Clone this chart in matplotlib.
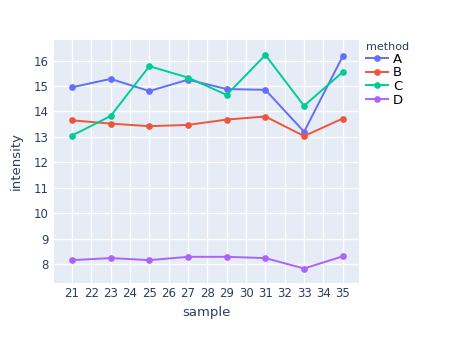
import numpy as np
import matplotlib.pyplot as plt

samples = [21, 23, 25, 27, 29, 31, 33, 35]
methods = ["A", "B", "C", "D"]
intensity_a = [14.95, 15.28, 14.80, 15.25, 14.88, 14.85, 13.20, 16.17]
intensity_b = [13.65, 13.52, 13.42, 13.47, 13.68, 13.80, 13.03, 13.72]
intensity_c = [13.05, 13.82, 15.78, 15.33, 14.65, 16.22, 14.22, 15.55]
intensity_d = [8.15, 8.23, 8.15, 8.28, 8.28, 8.23, 7.82, 8.30]
series = [intensity_a, intensity_b, intensity_c, intensity_d]
colors = ["#636efa", "#EF553B", "#00cc96", "#ab63fa"]

fig = plt.figure(figsize=(4.74, 3.38), dpi=100)
ax = fig.add_axes([54 / 474, 1 - 283 / 338, (359 - 54) / 474, (283 - 40) / 338])
ax.set_facecolor("#E5ECF6")

for name, vals, c in zip(methods, series, colors):
    ax.plot(samples, vals, color=c, lw=1.4, marker="o", ms=3.8, label=name)

ax.set_xlim(20.07, 35.84)
ax.set_ylim(7.25, 16.81)
ax.set_xticks(np.arange(21, 36))
ax.set_yticks(np.arange(8, 17))
ax.grid(color="white", lw=1)
ax.set_axisbelow(True)
for s in ax.spines.values():
    s.set_visible(False)
ax.tick_params(axis="x", length=0, labelsize=8.5, colors="#2a3f5f", pad=3)
ax.tick_params(axis="y", length=0, labelsize=8.5, colors="#2a3f5f", pad=4)
ax.set_xlabel("sample", fontsize=9.5, color="#2a3f5f", labelpad=4)
ax.set_ylabel("intensity", fontsize=9.5, color="#2a3f5f", labelpad=8)

leg = fig.legend(loc="upper left", bbox_to_anchor=(366 / 474, 1 - 42 / 338),
                 title="method", frameon=False, fontsize=9.5,
                 title_fontsize=8, handlelength=1.7, labelspacing=0.05,
                 handletextpad=0.35, borderaxespad=0, borderpad=0)
leg._legend_box.align = "left"
leg.get_title().set_color("#2a3f5f")

fig.savefig("out.png", dpi=100)
